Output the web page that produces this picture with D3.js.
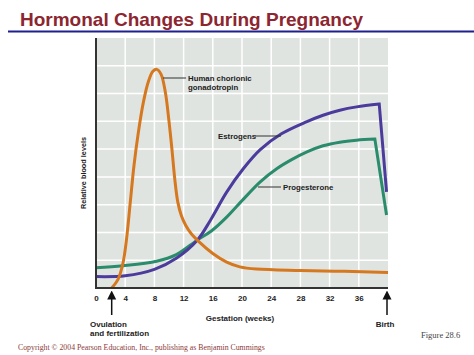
<!DOCTYPE html>
<html>
<head>
<meta charset="utf-8">
<script src="https://cdn.jsdelivr.net/npm/d3@7"></script>
<style>
  html, body { margin: 0; padding: 0; background: #fff; }
  svg { display: block; }
</style>
</head>
<body>
<svg id="chart" width="474" height="355"></svg>
<script>
// ---- Data ----
const tickWeeks = [0, 4, 8, 12, 16, 20, 24, 28, 32, 36];

const hcgWeeks  = [2.15, 3.0, 3.7, 4.2, 4.7, 5.2, 5.8, 6.5, 7.2, 7.8, 8.3, 8.9, 9.5, 10.0, 10.4, 10.8, 11.2, 11.7, 12.3, 13.0, 14.2, 16.0, 17.9, 19.7, 22, 28, 34, 40];
const hcgValues = [0.0, 0.3, 0.9, 1.8, 3.1, 4.4, 5.6, 6.7, 7.45, 7.8, 7.87, 7.7, 7.05, 6.0, 5.0, 3.9, 3.1, 2.6, 2.25, 1.97, 1.64, 1.24, 0.93, 0.76, 0.68, 0.63, 0.6, 0.56];

const estWeeks  = [0, 4, 8, 11, 13.9, 15.7, 17.9, 20.2, 22.5, 25.4, 28.9, 31.1, 33.4, 35.7, 38.8, 39.8];
const estValues = [0.41, 0.44, 0.67, 1.07, 1.73, 2.45, 3.45, 4.3, 4.98, 5.55, 5.99, 6.22, 6.4, 6.52, 6.62, 3.46];

const progWeeks  = [0, 3.7, 8.3, 11, 13.9, 15.8, 17.9, 20.2, 22.5, 24.8, 26.8, 28.9, 31.1, 33.4, 35.7, 38.2, 39.8];
const progValues = [0.73, 0.8, 0.96, 1.2, 1.73, 2.05, 2.55, 3.2, 3.82, 4.3, 4.62, 4.9, 5.12, 5.25, 5.32, 5.36, 2.63];

const seriesNames = ["Human chorionic gonadotropin", "Estrogens", "Progesterone"];

// ---- Layout ----
const svg = d3.select("#chart");
const x = d3.scaleLinear().domain([0, 40]).range([96, 388]);
const y = d3.scaleLinear().domain([0, 9]).range([288, 38]);
const sans = "Liberation Sans, Arial, sans-serif";

// Title
svg.append("text").attr("x", 20).attr("y", 26)
  .attr("font-family", sans).attr("font-weight", "bold")
  .attr("font-size", 19).attr("fill", "#8c2630").text("Hormonal Changes During Pregnancy");
svg.append("line").attr("x1", 8).attr("x2", 474).attr("y1", 31.5).attr("y2", 31.5)
  .attr("stroke", "#1f1f8f").attr("stroke-width", 2);

// Plot background
svg.append("rect").attr("x", x(0)).attr("y", y(9)).attr("width", x(40) - x(0)).attr("height", y(0) - y(9))
  .attr("fill", "#e0e4e0");

// Grid
const grid = svg.append("g").attr("stroke", "#ffffff").attr("stroke-width", 1.5);
d3.range(4, 40, 4).forEach(w => grid.append("line").attr("x1", x(w)).attr("x2", x(w)).attr("y1", y(9)).attr("y2", y(0)));
d3.range(1, 9).forEach(v => grid.append("line").attr("x1", x(0)).attr("x2", x(40)).attr("y1", y(v)).attr("y2", y(v)));

// Curves
function drawCurve(ws, vs, color, sharpLast) {
  const pts = ws.map((w, i) => [w, vs[i]]);
  const smooth = sharpLast ? pts.slice(0, -1) : pts;
  const gen = d3.line().x(d => x(d[0])).y(d => y(d[1])).curve(d3.curveCatmullRom.alpha(0.5));
  let p = gen(smooth);
  if (sharpLast) {
    const last = pts[pts.length - 1];
    p += "L" + x(last[0]) + "," + y(last[1]);
  }
  svg.append("path").attr("d", p).attr("fill", "none").attr("stroke", color)
    .attr("stroke-width", 3).attr("stroke-linejoin", "miter");
}
drawCurve(progWeeks, progValues, "#2a8c6c", true);
drawCurve(estWeeks, estValues, "#4a3b9c", true);
drawCurve(hcgWeeks, hcgValues, "#d5781f", false);

// Axes
const xAxis = d3.axisBottom(x).tickValues(tickWeeks).tickSize(0).tickPadding(7).tickFormat(d3.format("d"));
const gx = svg.append("g").attr("transform", `translate(0,${y(0)})`).call(xAxis);
gx.select(".domain").remove();
gx.selectAll("text").attr("font-family", sans)
  .attr("font-weight", "bold").attr("font-size", 8).attr("fill", "#222");
svg.append("line").attr("x1", x(0)).attr("x2", x(40)).attr("y1", y(0)).attr("y2", y(0))
  .attr("stroke", "#333").attr("stroke-width", 2);
svg.append("line").attr("x1", x(0)).attr("x2", x(0)).attr("y1", y(9)).attr("y2", y(0) + 1)
  .attr("stroke", "#333").attr("stroke-width", 2);

const lab = (t, px, py, anchor, size) => svg.append("text").attr("x", px).attr("y", py)
  .attr("text-anchor", anchor || "start").attr("font-family", sans)
  .attr("font-weight", "bold").attr("font-size", size || 8).attr("fill", "#222").text(t);

// Axis titles
lab("Gestation (weeks)", 240, 321, "middle");
svg.append("text").attr("transform", "translate(86,173) rotate(-90)").attr("text-anchor", "middle")
  .attr("font-family", sans).attr("font-weight", "bold")
  .attr("font-size", 7.3).attr("fill", "#222").text("Relative blood levels");

// Arrows
svg.append("defs").append("marker").attr("id", "ah").attr("viewBox", "0 0 10 10")
  .attr("refX", 5).attr("refY", 5).attr("markerWidth", 6).attr("markerHeight", 7)
  .attr("orient", "auto").append("path").attr("d", "M0,0 L10,5 L0,10 z").attr("fill", "#111");
[2.15, 40].forEach(w => {
  const xx = x(w) - (w === 40 ? 1 : 0);
  svg.append("line").attr("x1", xx).attr("x2", xx)
    .attr("y1", 315).attr("y2", 295).attr("stroke", "#111").attr("stroke-width", 1.5)
    .attr("marker-end", "url(#ah)");
});
lab("Ovulation", 90, 327);
lab("and fertilization", 90, 336);
lab("Birth", 385, 327, "middle");

// Series labels with leader lines
const leader = (x1, x2, yy) => svg.append("line").attr("x1", x1).attr("x2", x2).attr("y1", yy).attr("y2", yy)
  .attr("stroke", "#333").attr("stroke-width", 1);
leader(163, 186, 78);
lab("Human chorionic", 188, 80.5, "start", 7.8);
lab("gonadotropin", 188, 89.5, "start", 7.8);
leader(255, 281, 136);
lab(seriesNames[1], 218, 138.5, "start", 7.8);
leader(258, 281, 187);
lab(seriesNames[2], 283, 189.5, "start", 7.8);

// Footer
svg.append("text").attr("x", 421).attr("y", 338).attr("font-family", "Liberation Serif, Times New Roman, serif")
  .attr("font-size", 8.5).attr("fill", "#444").text("Figure 28.6");
svg.append("text").attr("x", 18).attr("y", 350).attr("font-family", "Liberation Serif, Times New Roman, serif")
  .attr("font-size", 7.8).attr("fill", "#8c3a3a")
  .text("Copyright \u00A9 2004 Pearson Education, Inc., publishing as Benjamin Cummings");
</script>
</body>
</html>
